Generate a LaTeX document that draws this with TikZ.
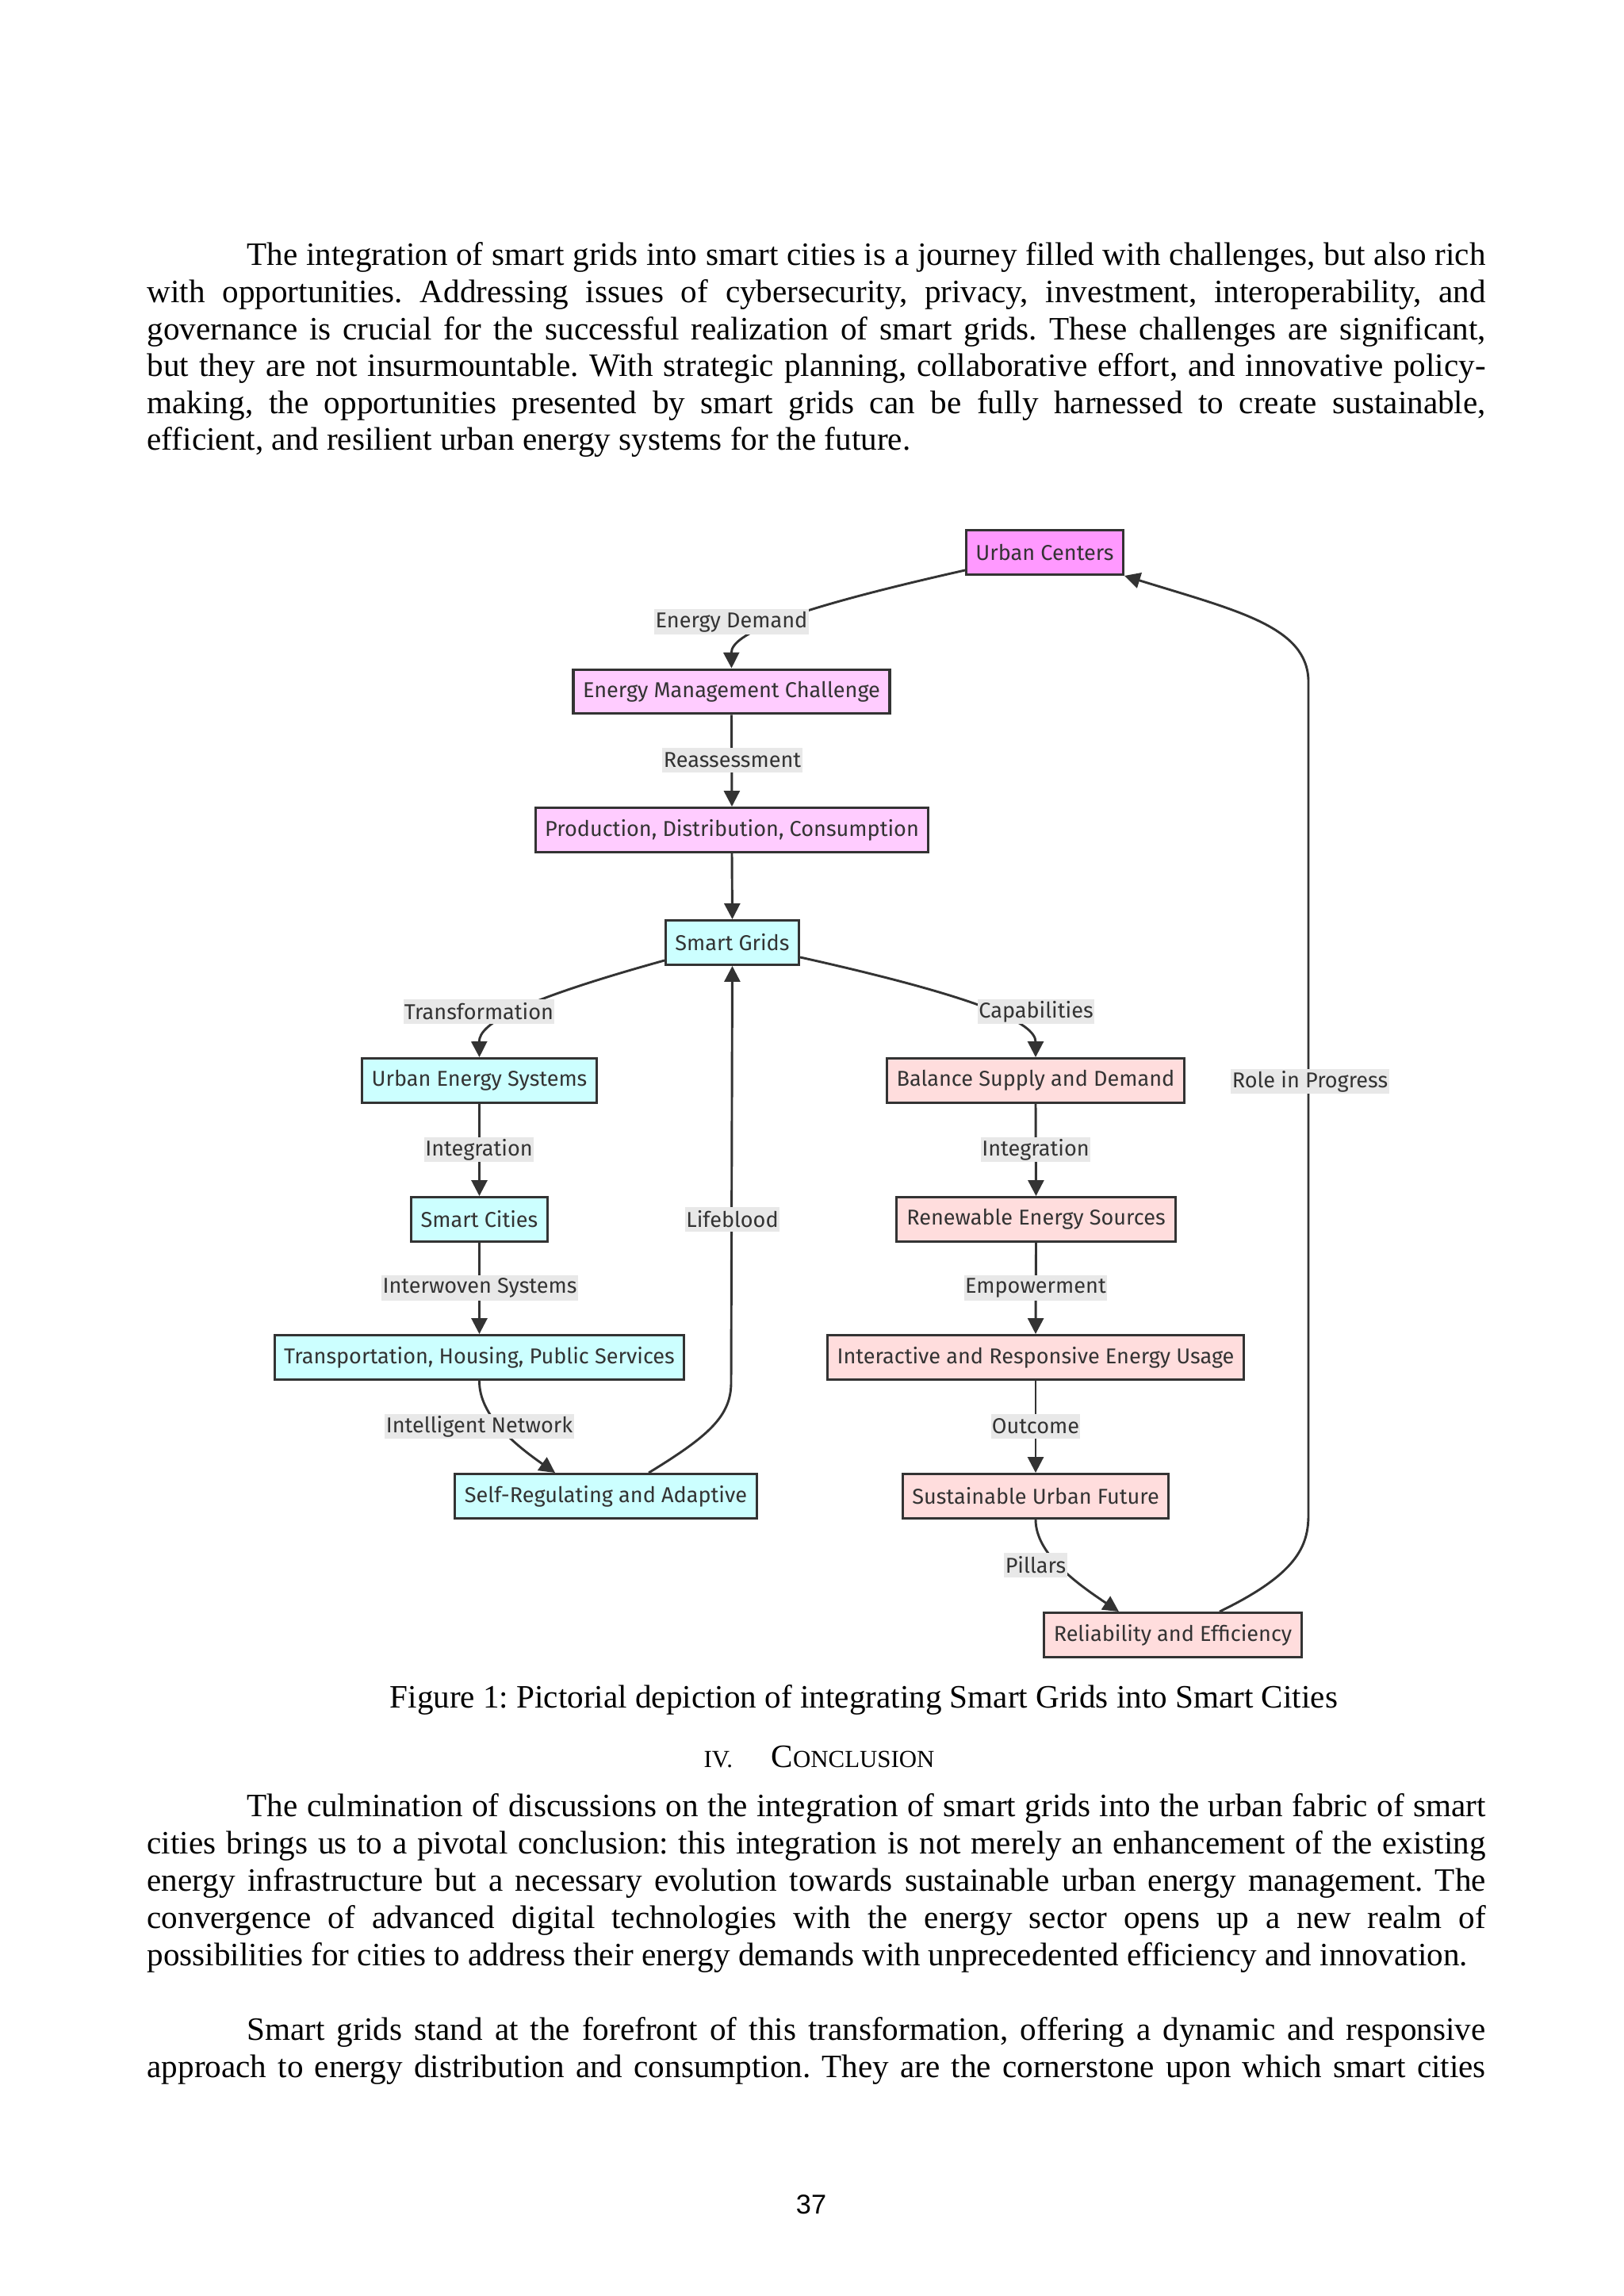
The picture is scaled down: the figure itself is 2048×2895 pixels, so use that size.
\documentclass[tikz,border=0pt]{standalone}
\usepackage{fontspec}
\setmainfont{Liberation Serif}
\newfontfamily\fira{Fira Sans}
\newfontfamily\arialf{Liberation Sans}
\usetikzlibrary{arrows.meta,calc}
\definecolor{ink}{HTML}{333333}
\definecolor{ucfill}{HTML}{FF99FF}
\definecolor{pkfill}{HTML}{FFCCFF}
\definecolor{cyfill}{HTML}{CCFFFF}
\definecolor{rdfill}{HTML}{FFDDDD}
\definecolor{lblbg}{HTML}{E8E8E8}
\frenchspacing
\begin{document}
\frenchspacing
\begin{tikzpicture}[x=0.2917pt,y=-0.2917pt,
  box/.style={draw=ink, line width=0.9pt, text=ink, font=\fira\fontsize{7.9}{9}\selectfont, minimum height=16.3pt, inner sep=0pt},
  magbox/.style={box, fill=ucfill},
  pnkbox/.style={box, fill=pkfill},
  cynbox/.style={box, fill=cyfill},
  rosebox/.style={box, fill=rdfill},
  lbl/.style={fill=lblbg, text=ink, font=\fira\fontsize{7.9}{9}\selectfont, inner xsep=0.4pt, inner ysep=0pt, minimum height=9.3pt},
  edgeline/.style={draw=ink, line width=0.85pt},
  arr/.style={edgeline, -{Triangle[length=5.8pt,width=5.8pt]}},
  body/.style={inner sep=0pt, font=\frenchspacing\fontsize{12}{13.6}\selectfont, anchor=base west}
]
\useasboundingbox (0,0) rectangle (2048,2895);
\fill[white] (0,0) rectangle (2048,2895);

% ---- paragraph 1
\node[body] (p1a) at (311,335) {\makebox[455.6pt][s]{The integration of smart grids into smart cities is a journey filled with challenges, but also rich}};
\node[body] (p1b) at (185,381.6) {\makebox[492.4pt][s]{with opportunities. Addressing issues of cybersecurity, privacy, investment, interoperability, and}};
\node[body] (p1c) at (185,428.2) {\makebox[492.4pt][s]{governance is crucial for the successful realization of smart grids. These challenges are significant,}};
\node[body] (p1d) at (185,474.8) {\makebox[492.4pt][s]{but they are not insurmountable. With strategic planning, collaborative effort, and innovative policy-}};
\node[body] (p1e) at (185,521.4) {\makebox[492.4pt][s]{making, the opportunities presented by smart grids can be fully harnessed to create sustainable,}};
\node[body] (p1f) at (185,568) {efficient, and resilient urban energy systems for the future.};

% ---- diagram boxes
\node[magbox, minimum width=57.7pt] (uc) at (1317.5,696.5) {Urban Centers};
\node[pnkbox, minimum width=116.4pt] (emc) at (922.5,872) {Energy Management Challenge};
\node[pnkbox, minimum width=144.4pt] (pdc) at (923,1046.5) {Production, Distribution, Consumption};
\node[cynbox, minimum width=49pt] (sg) at (923.5,1188.5) {Smart Grids};
\node[cynbox, minimum width=86.3pt] (ues) at (604.5,1362.5) {Urban Energy Systems};
\node[cynbox, minimum width=50.1pt] (sc) at (604.5,1537.5) {Smart Cities};
\node[cynbox, minimum width=150.5pt] (thps) at (604.5,1711.5) {Transportation, Housing, Public Services};
\node[cynbox, minimum width=111.1pt] (sra) at (764,1886.5) {Self-Regulating and Adaptive};
\node[rosebox, minimum width=109.4pt] (bsd) at (1306,1362.5) {Balance Supply and Demand};
\node[rosebox, minimum width=102.7pt] (res) at (1306.5,1537.5) {Renewable Energy Sources};
\node[rosebox, minimum width=153.1pt] (iru) at (1306,1711.5) {Interactive and Responsive Energy Usage};
\node[rosebox, minimum width=97.7pt] (suf) at (1306,1886.5) {Sustainable Urban Future};
\node[rosebox, minimum width=94.8pt] (re) at (1479,2061.5) {Reliability and Efficiency};

% ---- connectors
\draw[arr] ($(uc.south west)+(0,-7)$) .. controls (990,770) and (922,800) .. (emc.north);
\draw[arr] (emc.south) -- (pdc.north);
\draw[arr] (pdc.south) -- (sg.north);
\draw[arr] ($(sg.south west)+(0,-7)$) .. controls (658,1261) and (604,1290) .. (ues.north);
\draw[arr] ($(sg.south east)+(0,-11)$) .. controls (1238,1258) and (1306,1290) .. (bsd.north);
\draw[arr] (ues.south) -- (sc.north);
\draw[arr] (sc.south) -- (thps.north);
\draw[arr] (thps.south) .. controls (604,1785) and (650,1822) .. ($(sra.north west)+(128,0)$);
\draw[arr] ($(sra.north west)+(246,0)$) .. controls (895,1810) and (922,1785) .. (922,1743) -- (sg.south);
\draw[arr] (bsd.south) -- (res.north);
\draw[arr] (res.south) -- (iru.north);
\draw[arr] (iru.south) -- (suf.north);
\draw[arr] (suf.south) .. controls (1306,1960) and (1360,1998) .. ($(re.north west)+(96,0)$);
\draw[arr] ($(re.north west)+(223,0)$) .. controls (1635,1985) and (1650,1950) .. (1650,1910) -- (1650,860) .. controls (1650,790) and (1560,770) .. (uc.south east);

% ---- connector labels
\node[lbl] (l1) at (922.5,784) {Energy Demand};
\node[lbl] (l2) at (923.5,958.5) {Reassessment};
\node[lbl] (l3) at (604,1275.5) {Transformation};
\node[lbl] (l4) at (1306.5,1275.5) {Capabilities};
\node[lbl] (l5) at (604,1449.5) {Integration};
\node[lbl] (l6) at (1306,1449.5) {Integration};
\node[lbl] (l7) at (923.5,1537.5) {Lifeblood};
\node[lbl] (l8) at (1652,1363.5) {Role in Progress};
\node[lbl] (l9) at (605,1624) {Interwoven Systems};
\node[lbl] (l10) at (1306,1624) {Empowerment};
\node[lbl] (l11) at (604.5,1798.5) {Intelligent Network};
\node[lbl] (l12) at (1306,1798.5) {Outcome};
\node[lbl] (l13) at (1306,1973.5) {Pillars};

% ---- caption and heading
\node[body] (cap) at (491,2153) {Figure 1: Pictorial depiction of integrating Smart Grids into Smart Cities};
\node[body] (h1) at (887,2228) {\fontsize{9}{10}\selectfont IV.};
\node[body] (h2) at (972,2228) {C\fontsize{9}{10}\selectfont ONCLUSION};

% ---- conclusion paragraphs
\node[body] (p2a) at (311,2290) {\makebox[455.6pt][s]{The culmination of discussions on the integration of smart grids into the urban fabric of smart}};
\node[body] (p2b) at (185,2337) {\makebox[492.4pt][s]{cities brings us to a pivotal conclusion: this integration is not merely an enhancement of the existing}};
\node[body] (p2c) at (185,2384) {\makebox[492.4pt][s]{energy infrastructure but a necessary evolution towards sustainable urban energy management. The}};
\node[body] (p2d) at (185,2431) {\makebox[492.4pt][s]{convergence of advanced digital technologies with the energy sector opens up a new realm of}};
\node[body] (p2e) at (185,2478) {possibilities for cities to address their energy demands with unprecedented efficiency and innovation.};
\node[body] (p3a) at (311,2572) {\makebox[455.6pt][s]{Smart grids stand at the forefront of this transformation, offering a dynamic and responsive}};
\node[body] (p3b) at (185,2619) {\makebox[492.4pt][s]{approach to energy distribution and consumption. They are the cornerstone upon which smart cities}};

% ---- page number
\node[inner sep=0pt, anchor=base, font=\arialf\fontsize{10}{12}\selectfont] (pg) at (1023,2791) {37};
\end{tikzpicture}
\end{document}
